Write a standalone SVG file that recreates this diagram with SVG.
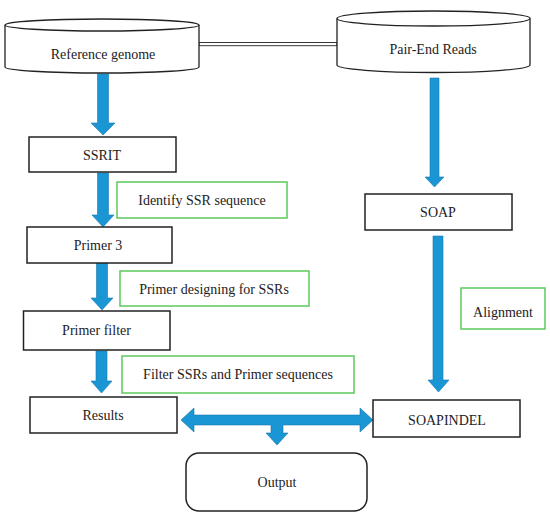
<svg xmlns="http://www.w3.org/2000/svg" width="550" height="517" viewBox="0 0 550 517">
<style>
.box{fill:#fff;stroke:#222;stroke-width:1.5}
.gbox{fill:#fff;stroke:#5cc85c;stroke-width:1.5}
.cyl{fill:#fff;stroke:#222;stroke-width:1.3}
.arr{fill:#1b96d4;stroke:#1679ad;stroke-width:0.6}
.t{font-family:"Times New Roman","Liberation Serif",Tinos,"DejaVu Serif","Noto Serif",serif;font-size:14px;fill:#222;text-anchor:middle;dominant-baseline:central}
</style>
<rect width="550" height="517" fill="#fff"/>
<g id="connectors">
<rect x="199" y="42.5" width="138" height="3.2" fill="#fff" stroke="#222" stroke-width="0.9"/>
<polygon class="arr" points="97.5,74 108.5,74 108.5,123 115,123 103,135 91,123 97.5,123"/>
<polygon class="arr" points="97.5,173 108.5,173 108.5,215 114,215 103,227 92,215 97.5,215"/>
<polygon class="arr" points="96.5,263 107.5,263 107.5,298 113,298 102,310 91,298 96.5,298"/>
<polygon class="arr" points="96,351 107,351 107,381 112,381 101.5,393 91,381 96,381"/>
<polygon class="arr" points="430,78 439,78 439,177 444,177 434.5,187 425,177 430,177"/>
<polygon class="arr" points="433,236 443,236 443,380 449,380 438.5,392 428,380 433,380"/>
<polygon class="arr" points="181,420 194,408 194,415 360,415 360,408 373,420 360,432 360,425 283,425 283,433 288,433 277,445 266,433 271,433 271,425 194,425 194,432"/>
</g>
<g id="ref-genome">
<path class="cyl" d="M5,25 V67 A97,6 0 0 0 199,67 V25"/>
<ellipse class="cyl" cx="102" cy="25" rx="97" ry="6"/>
<text class="t" x="103" y="54">Reference genome</text>
</g>
<g id="pair-end">
<path class="cyl" d="M337,18.5 V65 A96.5,7.5 0 0 0 530,65 V18.5"/>
<ellipse class="cyl" cx="433.5" cy="18.5" rx="96.5" ry="7.5"/>
<text class="t" x="433" y="49">Pair-End Reads</text>
</g>
<g id="ssrit"><rect class="box" x="29" y="137" width="147" height="35"/><text class="t" x="102" y="155">SSRIT</text></g>
<g id="identify"><rect class="gbox" x="117" y="182" width="170" height="36"/><text class="t" x="202" y="200">Identify SSR sequence</text></g>
<g id="primer3"><rect class="box" x="27" y="227" width="145" height="36"/><text class="t" x="98" y="245">Primer 3</text></g>
<g id="designing"><rect class="gbox" x="120" y="271" width="189" height="35"/><text class="t" x="214" y="289">Primer designing for SSRs</text></g>
<g id="primer-filter"><rect class="box" x="23.5" y="311" width="146.5" height="39"/><text class="t" x="96.5" y="330">Primer filter</text></g>
<g id="filter-ssrs"><rect class="gbox" x="122" y="356" width="232" height="37"/><text class="t" x="238" y="374">Filter SSRs and Primer sequences</text></g>
<g id="results"><rect class="box" x="30" y="397" width="147" height="36"/><text class="t" x="103" y="415.5">Results</text></g>
<g id="soap"><rect class="box" x="365" y="194" width="147" height="36"/><text class="t" x="438" y="212">SOAP</text></g>
<g id="alignment"><rect class="gbox" x="461" y="288" width="84" height="41"/><text class="t" x="503" y="312">Alignment</text></g>
<g id="soapindel"><rect class="box" x="373" y="400" width="147" height="37"/><text class="t" x="447" y="420">SOAPINDEL</text></g>
<g id="output"><rect class="box" x="186" y="453" width="181" height="58" rx="13"/><text class="t" x="277" y="482">Output</text></g>
</svg>
